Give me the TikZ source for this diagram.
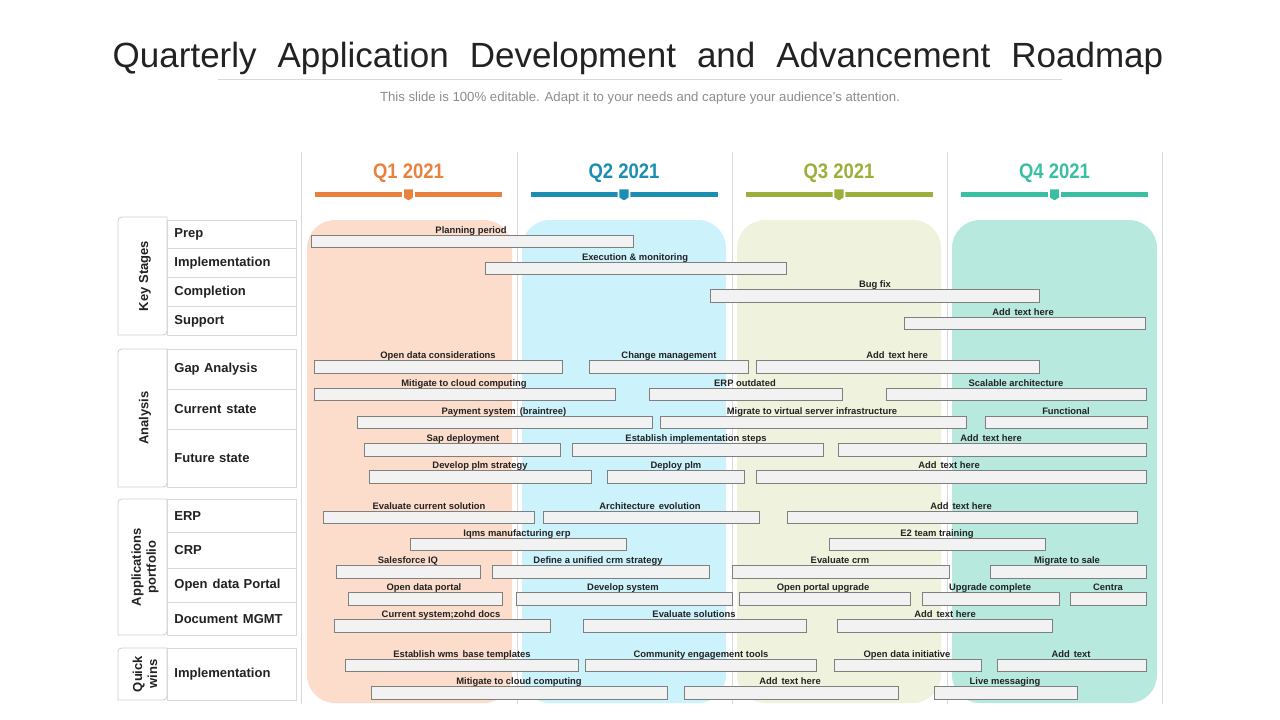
\documentclass[tikz,border=0pt]{standalone}
\usepackage{fontspec}
\setmainfont{Liberation Sans}
\newfontfamily\narrowfont[FakeStretch=0.88]{Liberation Sans}
\usepackage{graphicx}
\definecolor{qone}{HTML}{E8823F}
\definecolor{qtwo}{HTML}{1A8FB3}
\definecolor{qthree}{HTML}{9CAF3A}
\definecolor{qfour}{HTML}{3BBFA3}
\definecolor{bgone}{HTML}{FCDDCB}
\definecolor{bgtwo}{HTML}{CCF2FB}
\definecolor{bgthree}{HTML}{EFF3DD}
\definecolor{bgfour}{HTML}{B8E9DF}
\definecolor{barfill}{HTML}{F2F2F2}
\definecolor{barline}{HTML}{7F7F7F}
\definecolor{rowline}{HTML}{D9D9D9}
\definecolor{grpline}{HTML}{CFCFCF}
\definecolor{txt}{HTML}{222222}
\definecolor{subtxt}{HTML}{8C8C8C}
\tikzset{
  barbox/.style={draw=barline, fill=barfill, line width=0.8pt, inner sep=0pt, outer sep=0pt, minimum height=12.5pt, anchor=north west},
  barlabel/.style={font=\bfseries\fontsize{9.4}{10}\selectfont, text=txt, inner sep=0pt, anchor=base},
  rowcell/.style={draw=rowline, line width=0.8pt, anchor=north west, text width=115pt, inner xsep=7pt, inner ysep=0pt, align=left, font=\bfseries\fontsize{13}{14}\selectfont, text=txt},
  grouptext/.style={font=\bfseries\fontsize{13}{15}\selectfont, rotate=90, align=center, inner sep=0pt, text=txt},
  grpbox/.style={draw=grpline, line width=0.8pt},
  quarter/.style={font=\narrowfont\bfseries\fontsize{21}{22}\selectfont, anchor=base, inner sep=0pt},
  vline/.style={draw=rowline, line width=1pt},
  colbg/.style={rounded corners=28pt},
}
\newcommand\rbar[6]{%
  \node[barbox, minimum width={#3pt-#2pt}] (#1) at (#2,#4) {};
  \node[barlabel] (#1t) at (#5,#4-1.6) {#6};
}
\newcommand\qhead[4]{% name, center x, color, text
  \node[quarter, text=#3] (#1) at (#2,178) {#4};
  \fill[#3] (#2-93.5,192) rectangle (#2+93.5,197);
  \draw[white, line width=1.6pt, fill=#3] (#2-5.5,188.5) -- (#2+5.5,188.5) -- (#2+5.5,198) -- (#2,201.5) -- (#2-5.5,198) -- cycle;
}
\newcommand\grpbox[3]{% left, top, bottom
  \draw[grpbox] (167,#2) -- (126,#2) .. controls (118,#2) .. (118,#2+8) -- (118,#3) -- (159,#3) .. controls (167,#3) .. (167,#3-8) -- (167,#2);
}
\newcommand\rowcell[4]{% name, top, height, text
  \node[rowcell, minimum height=#3pt] (#1) at (167,#2) {#4};
}
\begin{document}
\begin{tikzpicture}[x=1pt,y=-1pt]
\useasboundingbox[fill=white] (0,0) rectangle (1280,720);

% title
\node[anchor=base, inner sep=0pt, text=txt, font=\fontsize{35}{38}\selectfont] (title) at (638,67)
  {Quarterly\hspace{21pt}Application\hspace{21pt}Development\hspace{21pt}and\hspace{21pt}Advancement\hspace{21pt}Roadmap};
\draw[draw=rowline, line width=1pt] (218,79) -- (1062,79);
\node[anchor=base, inner sep=0pt, text=subtxt] (subtitle) at (640,101.5)
  {\resizebox{520pt}{!}{\fontsize{12}{14}\selectfont This slide is 100\% editable. Adapt it to your needs and capture your audience's attention.}};

% column backgrounds
\fill[bgone, colbg] (307,220) rectangle (512,703);
\fill[bgtwo, colbg] (522,220) rectangle (726,703);
\fill[bgthree, colbg] (737,220) rectangle (941,703);
\fill[bgfour, colbg] (952,220) rectangle (1157,703);

% vertical lines
\foreach \x in {301,517,732,947,1162} \draw[vline] (\x,152) -- (\x,704);

% quarter headers
\qhead{q1}{408.5}{qone}{Q1 2021}
\qhead{q2}{624}{qtwo}{Q2 2021}
\qhead{q3}{839}{qthree}{Q3 2021}
\qhead{q4}{1054.5}{qfour}{Q4 2021}

% left groups
\grpbox{118}{217}{335}
\node[grouptext] (gks) at (145,276) {Key Stages};
\rowcell{rprep}{220}{28}{Prep}
\rowcell{rimpl}{248}{29}{Implementation}
\rowcell{rcomp}{277}{29}{Completion}
\rowcell{rsupp}{306}{29}{Support}

\grpbox{118}{349}{487}
\node[grouptext] (gan) at (145,418) {Analysis};
\rowcell{rgap}{349}{40}{Gap Analysis}
\rowcell{rcur}{389}{40}{Current\hspace{5pt}state}
\rowcell{rfut}{429}{58}{Future state}

\grpbox{118}{499}{635}
\node[grouptext] (gap) at (145,567) {Applications\\portfolio};
\rowcell{rerp}{499}{33}{ERP}
\rowcell{rcrp}{532}{36}{CRP}
\rowcell{rodp}{568}{34}{Open\hspace{5pt}data Portal}
\rowcell{rdoc}{602}{33}{Document\hspace{5pt}MGMT}

\grpbox{118}{648}{700}
\node[grouptext] (gqw) at (145,674) {Quick\\wins};
\rowcell{rqimp}{648}{52}{Implementation}

% key stages bars
\rbar{k1}{311}{633}{235}{471}{Planning period}
\rbar{k2}{485}{786}{262}{635}{Execution \& monitoring}
\rbar{k3}{710}{1039}{289.5}{875}{Bug fix}
\rbar{k4}{904}{1145}{317}{1023}{Add\hspace{4pt}text here}

% analysis bars
\rbar{a11}{314}{562}{360.5}{438}{Open data considerations}
\rbar{a12}{589}{748}{360.5}{669}{Change management}
\rbar{a13}{756}{1039}{360.5}{897}{Add\hspace{4pt}text here}
\rbar{a21}{314}{615}{388}{464}{Mitigate to cloud computing}
\rbar{a22}{649}{842}{388}{745}{ERP outdated}
\rbar{a23}{886}{1146}{388}{1016}{Scalable architecture}
\rbar{a31}{357}{652}{416}{504}{Payment system\hspace{4pt}(braintree)}
\rbar{a32}{660}{966}{416}{812}{Migrate to virtual server infrastructure}
\rbar{a33}{985}{1147}{416}{1066}{Functional}
\rbar{a41}{364}{560}{443.5}{463}{Sap deployment}
\rbar{a42}{572}{823}{443.5}{696}{Establish implementation steps}
\rbar{a43}{838}{1146}{443.5}{991}{Add\hspace{4pt}text here}
\rbar{a51}{369}{591}{470.5}{480}{Develop plm strategy}
\rbar{a52}{607}{744}{470.5}{676}{Deploy plm}
\rbar{a53}{756}{1146}{470.5}{949}{Add\hspace{4pt}text here}

% applications portfolio bars
\rbar{p11}{323}{534}{511}{429}{Evaluate current solution}
\rbar{p12}{543}{759}{511}{650}{Architecture\hspace{4pt}evolution}
\rbar{p13}{787}{1137}{511}{961}{Add\hspace{4pt}text here}
\rbar{p21}{410}{626}{538}{517}{Iqms manufacturing erp}
\rbar{p22}{829}{1045}{538}{937}{E2 team training}
\rbar{p31}{336}{480}{565.5}{408}{Salesforce IQ}
\rbar{p32}{492}{709}{565.5}{598}{Define a unified crm strategy}
\rbar{p33}{732}{949}{565.5}{840}{Evaluate crm}
\rbar{p34}{990}{1146}{565.5}{1067}{Migrate to sale}
\rbar{p41}{348}{502}{592.5}{424}{Open data portal}
\rbar{p42}{516}{732}{592.5}{623}{Develop system}
\rbar{p43}{739}{910}{592.5}{823}{Open portal upgrade}
\rbar{p44}{922}{1059}{592.5}{990}{Upgrade complete}
\rbar{p45}{1070}{1146}{592.5}{1108}{Centra}
\rbar{p51}{334}{550}{619.5}{441}{Current system;zohd docs}
\rbar{p52}{583}{806}{619.5}{694}{Evaluate solutions}
\rbar{p53}{837}{1052}{619.5}{945}{Add\hspace{4pt}text here}

% quick wins bars
\rbar{w11}{345}{578}{659}{462}{Establish wms\hspace{4pt}base templates}
\rbar{w12}{585}{816}{659}{701}{Community engagement tools}
\rbar{w13}{834}{981}{659}{907}{Open data initiative}
\rbar{w14}{997}{1146}{659}{1071}{Add\hspace{4pt}text}
\rbar{w21}{371}{667}{686.5}{519}{Mitigate to cloud computing}
\rbar{w22}{684}{898}{686.5}{790}{Add\hspace{4pt}text here}
\rbar{w23}{934}{1077}{686.5}{1005}{Live messaging}
\end{tikzpicture}
\end{document}
